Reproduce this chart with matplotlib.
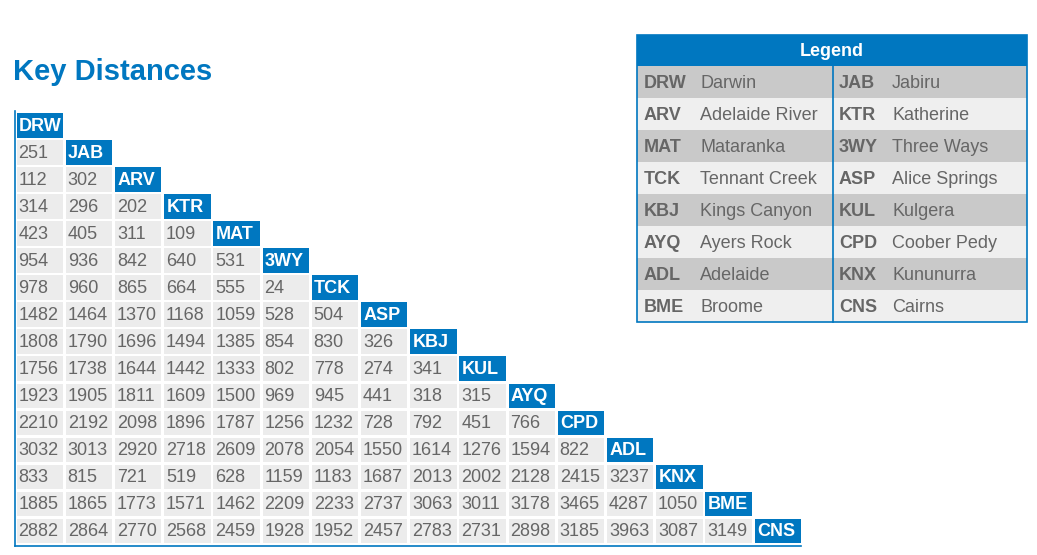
import matplotlib
matplotlib.use("Agg")
import matplotlib.pyplot as plt
from matplotlib.patches import Rectangle

codes = ["DRW","JAB","ARV","KTR","MAT","3WY","TCK","ASP","KBJ","KUL","AYQ","CPD","ADL","KNX","BME","CNS"]
names = ["Darwin","Jabiru","Adelaide River","Katherine","Mataranka","Three Ways","Tennant Creek","Alice Springs",
         "Kings Canyon","Kulgera","Ayers Rock","Coober Pedy","Adelaide","Kununurra","Broome","Cairns"]
distances = [
    [],
    [251],
    [112,302],
    [314,296,202],
    [423,405,311,109],
    [954,936,842,640,531],
    [978,960,865,664,555,24],
    [1482,1464,1370,1168,1059,528,504],
    [1808,1790,1696,1494,1385,854,830,326],
    [1756,1738,1644,1442,1333,802,778,274,341],
    [1923,1905,1811,1609,1500,969,945,441,318,315],
    [2210,2192,2098,1896,1787,1256,1232,728,792,451,766],
    [3032,3013,2920,2718,2609,2078,2054,1550,1614,1276,1594,822],
    [833,815,721,519,628,1159,1183,1687,2013,2002,2128,2415,3237],
    [1885,1865,1773,1571,1462,2209,2233,2737,3063,3011,3178,3465,4287,1050],
    [2882,2864,2770,2568,2459,1928,1952,2457,2783,2731,2898,3185,3963,3087,3149],
]

BLUE = "#0077c0"
GREY_TXT = "#666666"
plt.rcParams['font.family'] = ['Liberation Sans', 'DejaVu Sans']

fig = plt.figure(figsize=(10.37, 5.55), dpi=100)
ax = fig.add_axes([0, 0, 1, 1])
ax.set_xlim(0, 1037); ax.set_ylim(555, 0); ax.axis("off")

ax.text(13, 72, "Key Distances", fontsize=21, fontweight="bold", color=BLUE, va="center", ha="left")

x0, y0, px, py, cw, ch = 16.5, 113, 49.2, 27.05, 46.5, 24.5
for i, row in enumerate(distances):
    y = y0 + i * py
    for j, v in enumerate(row):
        x = x0 + j * px
        ax.add_patch(Rectangle((x, y), cw, ch, color="#ececec", lw=0))
        ax.text(x + 2, y + ch / 2 + 1, str(v), fontsize=13, color=GREY_TXT, va="center", ha="left")
    x = x0 + i * px
    ax.add_patch(Rectangle((x, y), cw, ch, color=BLUE, lw=0))
    ax.text(x + 2.5, y + ch / 2 + 1, codes[i], fontsize=13, fontweight="bold", color="white", va="center", ha="left")
ax.plot([14.5, 14.5], [111, 546], color=BLUE, lw=1.2)
ax.plot([14.5, 801], [546, 546], color=BLUE, lw=1.2)

# Legend
lx0, lx1, ly0 = 637, 1027, 35
ax.add_patch(Rectangle((lx0, ly0), lx1 - lx0, 31, color=BLUE, lw=0))
ax.text((lx0 + lx1) / 2, ly0 + 16, "Legend", fontsize=13, fontweight="bold", color="white", ha="center", va="center")
rh = 32
for r in range(8):
    y = 66 + r * rh
    ax.add_patch(Rectangle((lx0, y), lx1 - lx0, rh, color="#c9c9c9" if r % 2 == 0 else "#efefef", lw=0))
    for k, (cx, nx) in enumerate([(644, 700), (839, 892)]):
        idx = 2 * r + k
        ax.text(cx, y + rh / 2 + 1, codes[idx], fontsize=13, fontweight="bold", color=GREY_TXT, va="center")
        ax.text(nx, y + rh / 2 + 1, names[idx], fontsize=13, color=GREY_TXT, va="center")
ax.add_patch(Rectangle((lx0, ly0), lx1 - lx0, 66 + 8 * rh - ly0, fill=False, ec=BLUE, lw=1.2))
ax.plot([833, 833], [66, 66 + 8 * rh], color=BLUE, lw=1.2)

fig.savefig("out.png", dpi=100)
